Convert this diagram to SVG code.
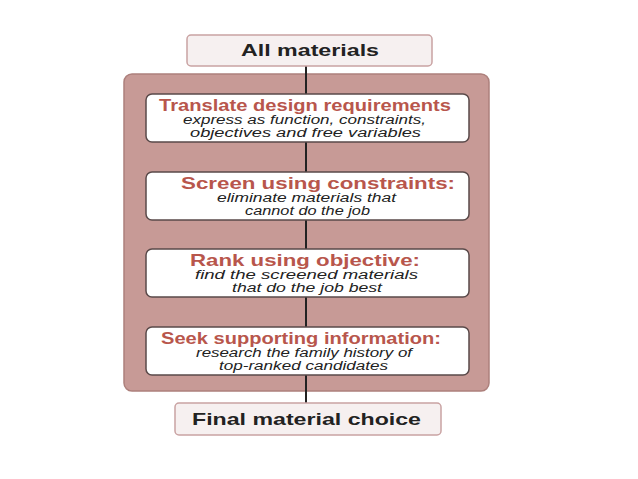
<svg xmlns="http://www.w3.org/2000/svg" width="638" height="479" viewBox="0 0 638 479">
<style>
.io{fill:#f6f0f0;stroke:#c9a2a2;stroke-width:1.5}
.st{fill:#fff;stroke:#5a4a4a;stroke-width:1.5}
text{font-family:"Liberation Sans",Arial,sans-serif}
.h{font-weight:bold;font-size:17px;fill:#222}
.t{font-weight:bold;font-size:16.5px;fill:#b8564c}
.s{font-style:italic;font-size:12.5px;fill:#222}
</style>
<rect width="638" height="479" fill="#fff"/>
<rect id="panel" x="124" y="74" width="365" height="317" rx="8" fill="#c79a96" stroke="#ad807c" stroke-width="1.5"/>
<g id="connectors" stroke="#222" stroke-width="2">
<line x1="306" y1="66" x2="306" y2="403"/>
</g>
<g id="all"><rect class="io" x="187" y="35" width="245" height="31" rx="4"/><text class="h" x="241" y="56" textLength="138" lengthAdjust="spacingAndGlyphs">All materials</text></g>
<g id="s1"><rect class="st" x="146" y="94" width="323" height="48" rx="6"/><text class="t" x="159" y="111" textLength="292" lengthAdjust="spacingAndGlyphs">Translate design requirements</text><text class="s" x="183" y="124" textLength="243" lengthAdjust="spacingAndGlyphs">express as function, constraints,</text><text class="s" x="190" y="137" textLength="231" lengthAdjust="spacingAndGlyphs">objectives and free variables</text></g>
<g id="s2"><rect class="st" x="146" y="172" width="323" height="48" rx="6"/><text class="t" x="181" y="189" textLength="274" lengthAdjust="spacingAndGlyphs">Screen using constraints:</text><text class="s" x="217" y="202" textLength="179" lengthAdjust="spacingAndGlyphs">eliminate materials that</text><text class="s" x="245" y="215" textLength="125" lengthAdjust="spacingAndGlyphs">cannot do the job</text></g>
<g id="s3"><rect class="st" x="146" y="249" width="323" height="48" rx="6"/><text class="t" x="190" y="266" textLength="230" lengthAdjust="spacingAndGlyphs">Rank using objective:</text><text class="s" x="195" y="279" textLength="223" lengthAdjust="spacingAndGlyphs">find the screened materials</text><text class="s" x="232" y="292" textLength="150" lengthAdjust="spacingAndGlyphs">that do the job best</text></g>
<g id="s4"><rect class="st" x="146" y="327" width="323" height="48" rx="6"/><text class="t" x="161" y="344" textLength="280" lengthAdjust="spacingAndGlyphs">Seek supporting information:</text><text class="s" x="196" y="357" textLength="216" lengthAdjust="spacingAndGlyphs">research the family history of</text><text class="s" x="219" y="370" textLength="169" lengthAdjust="spacingAndGlyphs">top-ranked candidates</text></g>
<g id="final"><rect class="io" x="175" y="403" width="266" height="32" rx="4"/><text class="h" x="192" y="425" textLength="229" lengthAdjust="spacingAndGlyphs">Final material choice</text></g>
</svg>
